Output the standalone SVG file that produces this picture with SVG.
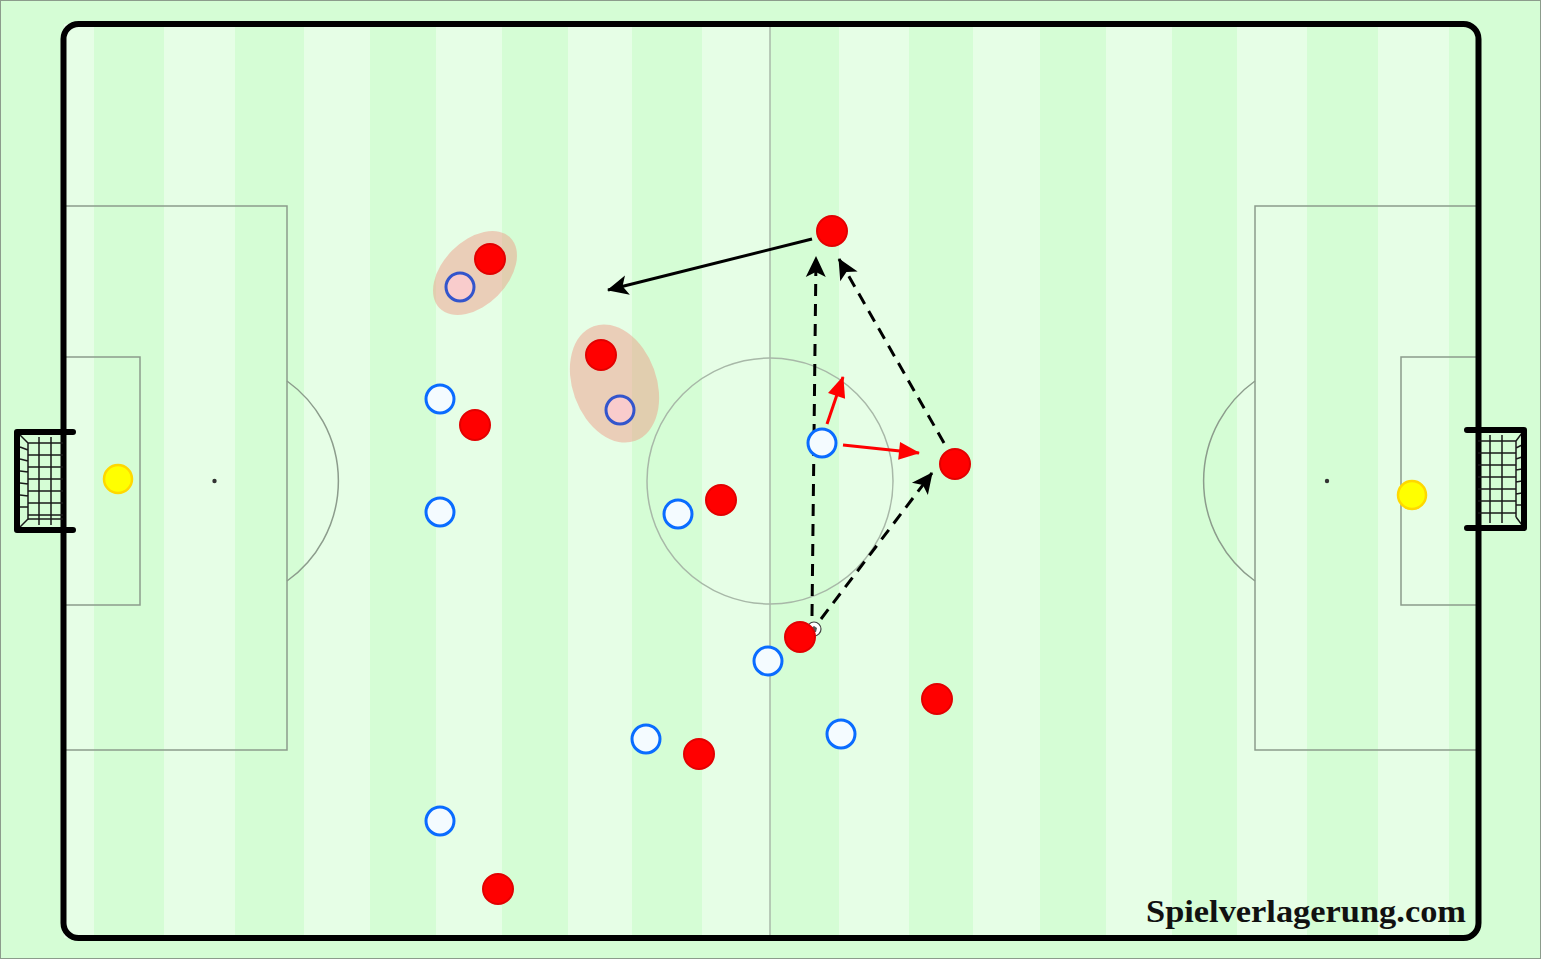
<svg xmlns="http://www.w3.org/2000/svg" width="1541" height="959" viewBox="0 0 1541 959">
<style>
.line{fill:none;stroke:#8c9c8c;stroke-width:1.5}
.ln{fill:none;stroke:#a8b8a8;stroke-width:1.5}
.L{fill:#e6fee6}
.D{fill:#d5fdd5}
.red{fill:#ff0000;stroke:#e20000;stroke-width:2}
.blue{fill:#f4fbff;stroke:#0a6cff;stroke-width:3}
.mark{fill:#f9cccc;stroke:#3355cc;stroke-width:3}
.gk{fill:#ffff00;stroke:#ffd800;stroke-width:2.5}
.hl{fill:#f09480;fill-opacity:0.45}
.goal{fill:none;stroke:#000;stroke-width:6;stroke-linecap:round;stroke-linejoin:round}
.net{fill:none;stroke:#1a1a1a;stroke-width:1.5}
.blk{fill:none;stroke:#000;stroke-width:3}
.dash{fill:none;stroke:#000;stroke-width:3;stroke-dasharray:12 8}
.rarr{fill:none;stroke:#ff0000;stroke-width:3}
</style>
<defs>
<marker id="ab" markerUnits="userSpaceOnUse" markerWidth="26" markerHeight="26" refX="20" refY="10" orient="auto" overflow="visible"><path d="M0,0 L21,10 L0,20 L5,10 Z" fill="#000"/></marker>
<marker id="ar" markerUnits="userSpaceOnUse" markerWidth="26" markerHeight="26" refX="20" refY="9" orient="auto" overflow="visible"><path d="M0,0 L21,9 L0,18 Z" fill="#ff0000"/></marker>
</defs>
<rect x="0.5" y="0.5" width="1540" height="958" fill="#d5fdd5" stroke="#8c9c8c" stroke-width="1"/>
<g id="pitch">
<rect class="L" x="64" y="24" width="30" height="914"/>
<rect class="D" x="94" y="24" width="70" height="914"/>
<rect class="L" x="164" y="24" width="71" height="914"/>
<rect class="D" x="235" y="24" width="69" height="914"/>
<rect class="L" x="304" y="24" width="66" height="914"/>
<rect class="D" x="370" y="24" width="66" height="914"/>
<rect class="L" x="436" y="24" width="66" height="914"/>
<rect class="D" x="502" y="24" width="66" height="914"/>
<rect class="L" x="568" y="24" width="64" height="914"/>
<rect class="D" x="632" y="24" width="70" height="914"/>
<rect class="L" x="702" y="24" width="68" height="914"/>
<rect class="D" x="770" y="24" width="69" height="914"/>
<rect class="L" x="839" y="24" width="70" height="914"/>
<rect class="D" x="909" y="24" width="64" height="914"/>
<rect class="L" x="973" y="24" width="67" height="914"/>
<rect class="D" x="1040" y="24" width="66" height="914"/>
<rect class="L" x="1106" y="24" width="66" height="914"/>
<rect class="D" x="1172" y="24" width="65" height="914"/>
<rect class="L" x="1237" y="24" width="70" height="914"/>
<rect class="D" x="1307" y="24" width="71" height="914"/>
<rect class="L" x="1378" y="24" width="71" height="914"/>
<rect class="D" x="1449" y="24" width="30" height="914"/>
<line class="ln" x1="770" y1="24" x2="770" y2="938"/>
<circle class="ln" cx="770" cy="481" r="123"/>
<polyline class="line" points="64,206 287,206 287,750 64,750"/>
<polyline class="line" points="64,357 140,357 140,605 64,605"/>
<path class="line" d="M287,381 A123,123 0 0 1 287,581"/>
<circle cx="214.5" cy="481" r="2.2" fill="#333"/>
<polyline class="line" points="1478,206 1255,206 1255,750 1478,750"/>
<polyline class="line" points="1478,357 1401,357 1401,605 1478,605"/>
<path class="line" d="M1255,381 A123,123 0 0 0 1255,581"/>
<circle cx="1327" cy="481" r="2.2" fill="#333"/>
<rect x="63.5" y="24" width="1415" height="914" rx="15" ry="15" fill="none" stroke="#000" stroke-width="6"/>
</g>
<g id="goal-left">
<path class="net" d="M28,443 H63 M28,455 H63 M28,467 H63 M28,479 H63 M28,491 H63 M28,503 H63 M28,515 H63 M28,443 V519 M39,437 V525 M51,437 V525 M20,435 L28,443 M20,527 L28,519 M20,447 L28,450 M20,459 L28,461 M20,471 L28,472 M20,483 L28,484 M20,495 L28,496 M20,507 L28,507 M28,519 H63"/>
<path class="goal" d="M73,432 H17 V530 H73"/>
</g>
<g id="goal-right">
<path class="net" d="M1478,441 H1516 M1478,453 H1516 M1478,465 H1516 M1478,477 H1516 M1478,489 H1516 M1478,501 H1516 M1478,513 H1516 M1516,441 V517 M1490,435 V523 M1502,435 V523 M1522,433 L1516,441 M1522,525 L1516,517 M1522,445 L1516,448 M1522,457 L1516,459 M1522,469 L1516,470 M1522,481 L1516,482 M1522,493 L1516,494 M1522,505 L1516,505"/>
<path class="goal" d="M1467,430 H1524 V528 H1467"/>
</g>
<g id="highlights">
<ellipse class="hl" cx="475" cy="273" rx="50" ry="32" transform="rotate(-45 475 273)"/>
<ellipse class="hl" cx="614.5" cy="383.5" rx="42" ry="61" transform="rotate(-20 614.5 383.5)"/>
</g>
<g id="ball">
<circle cx="814" cy="629" r="7" fill="#fff" stroke="#444" stroke-width="1.2"/>
<path d="M814,626 L817,628 L816,632 L812,632 L811,628 Z" fill="#555"/>
</g>
<g id="connectors">
<line class="blk" x1="812" y1="239" x2="608" y2="290" marker-end="url(#ab)"/>
<line class="dash" x1="812" y1="616" x2="816" y2="257" marker-end="url(#ab)"/>
<line class="dash" x1="944" y1="443" x2="839" y2="259" marker-end="url(#ab)"/>
<line class="dash" x1="821" y1="619" x2="932" y2="473" marker-end="url(#ab)"/>
<line class="rarr" x1="827" y1="424" x2="843" y2="377" marker-end="url(#ar)"/>
<line class="rarr" x1="843" y1="445" x2="919" y2="453" marker-end="url(#ar)"/>
</g>
<g id="gk-left"><circle class="gk" cx="118" cy="479" r="14"/></g>
<g id="gk-right"><circle class="gk" cx="1412" cy="495" r="14"/></g>
<g id="red-1"><circle class="red" cx="832" cy="231" r="15"/></g>
<g id="red-2"><circle class="red" cx="490" cy="259" r="15"/></g>
<g id="red-3"><circle class="red" cx="601" cy="355" r="15"/></g>
<g id="red-4"><circle class="red" cx="475" cy="425" r="15"/></g>
<g id="red-5"><circle class="red" cx="721" cy="500" r="15"/></g>
<g id="red-6"><circle class="red" cx="955" cy="464" r="15"/></g>
<g id="red-7"><circle class="red" cx="800" cy="637" r="15"/></g>
<g id="red-8"><circle class="red" cx="937" cy="699" r="15"/></g>
<g id="red-9"><circle class="red" cx="699" cy="754" r="15"/></g>
<g id="red-10"><circle class="red" cx="498" cy="889" r="15"/></g>
<g id="blue-1"><circle class="blue" cx="440" cy="399" r="14"/></g>
<g id="blue-2"><circle class="blue" cx="440" cy="512" r="14"/></g>
<g id="blue-3"><circle class="blue" cx="678" cy="514" r="14"/></g>
<g id="blue-4"><circle class="blue" cx="822" cy="443" r="14"/></g>
<g id="blue-5"><circle class="blue" cx="768" cy="661" r="14"/></g>
<g id="blue-6"><circle class="blue" cx="646" cy="739" r="14"/></g>
<g id="blue-7"><circle class="blue" cx="841" cy="734" r="14"/></g>
<g id="blue-8"><circle class="blue" cx="440" cy="821" r="14"/></g>
<g id="blue-9"><circle class="mark" cx="460" cy="287" r="14"/></g>
<g id="blue-10"><circle class="mark" cx="620" cy="410" r="14"/></g>
<text x="1466" y="922" text-anchor="end" font-family="'Liberation Serif', 'DejaVu Serif', serif" font-weight="bold" font-size="31" textLength="320" lengthAdjust="spacingAndGlyphs" fill="#111">Spielverlagerung.com</text>
</svg>
